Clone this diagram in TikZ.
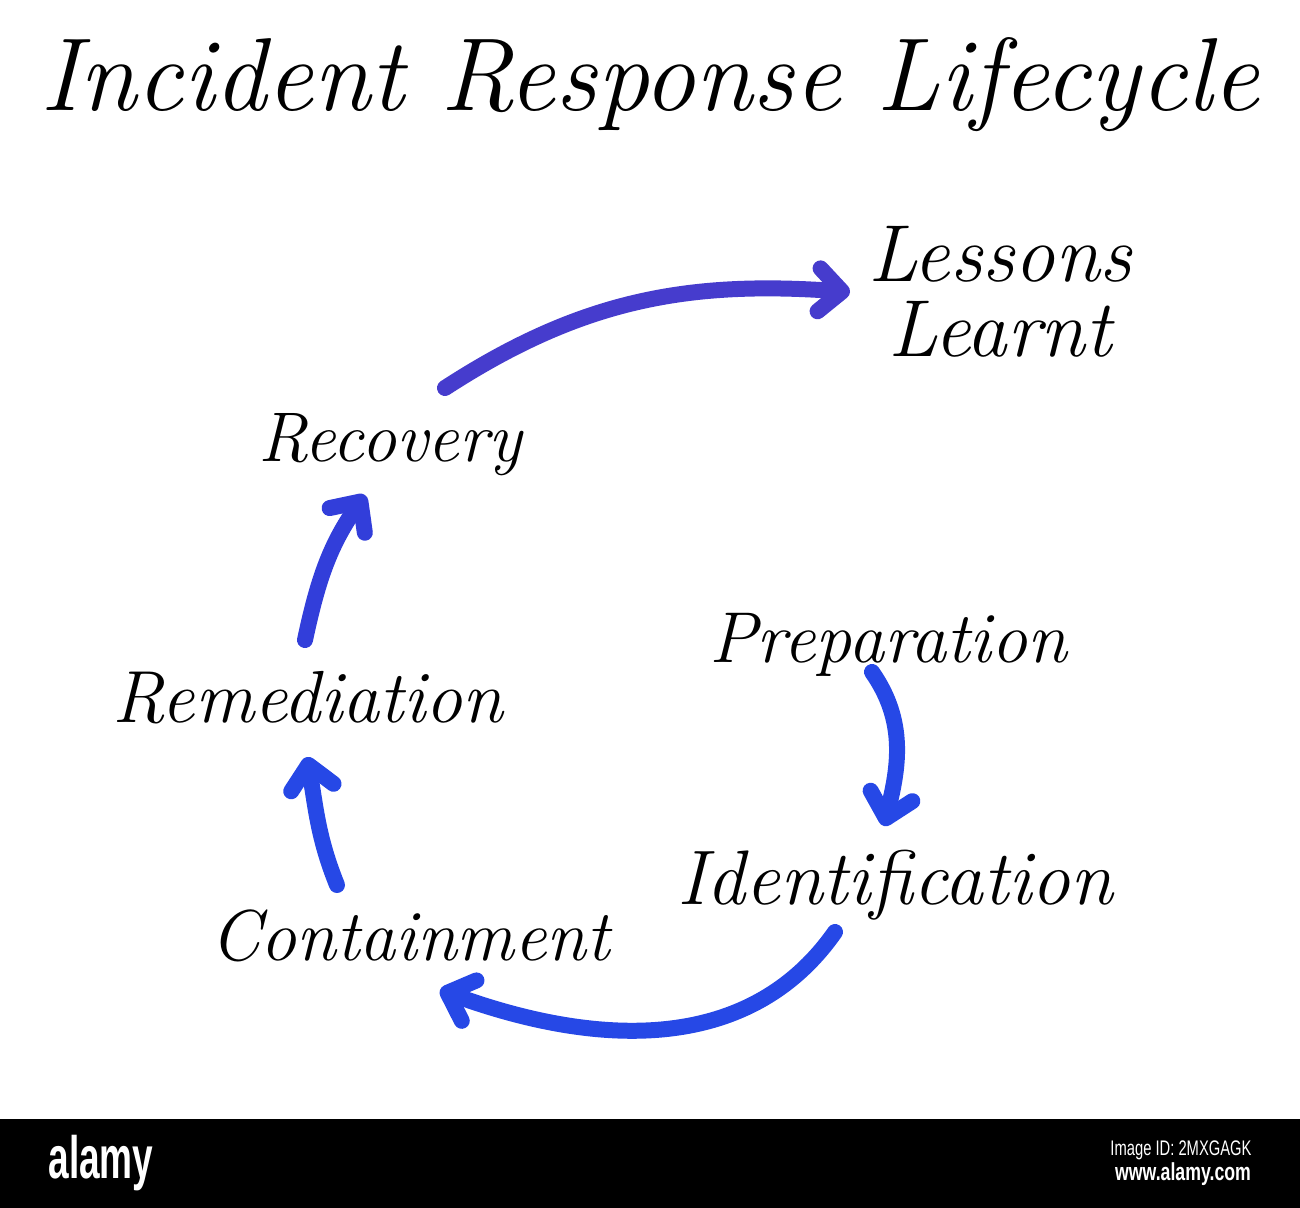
\documentclass[tikz,border=0pt]{standalone}
\usepackage{fontspec}
\newfontfamily\footfont{Liberation Sans}
\usetikzlibrary{arrows.meta, positioning, calc}
\definecolor{violetblue}{RGB}{70,60,205}
\definecolor{cycleblue}{RGB}{38,72,230}
\definecolor{midblue}{RGB}{50,62,218}

\begin{document}
\begin{tikzpicture}[
    x=0.1mm, y=0.1mm,
    stage/.style={inner sep=0pt, align=center, font=\fontsize{20.5}{22}\selectfont\itshape},
    flow/.style={line width=1.6mm, line cap=round, draw=cycleblue, -{Straight Barb[length=2.3mm, width=4.3mm, round]}},
    footer/.style={inner sep=0pt, text=white},
]
    \useasboundingbox (0,0) rectangle (1300,-1208);

    % title and stages
    \node[inner sep=0pt, font=\fontsize{29.5}{31}\selectfont\itshape] (title) at (650,-85) {Incident Response Lifecycle};
    \node[stage, font=\fontsize{23}{21.5}\selectfont\itshape] (les) at (1000,-292) {Lessons\\Learnt};
    \node[stage, font=\fontsize{20}{22}\selectfont\itshape] (rec) at (390,-445) {Recovery};
    \node[stage] (prep)  at (888,-645) {Preparation};
    \node[stage, font=\fontsize{21}{22}\selectfont\itshape] (rem) at (308,-698) {Remediation};
    \node[stage, font=\fontsize{22}{22}\selectfont\itshape] (ident) at (895,-885) {Identification};
    \node[stage] (cont)  at (410,-936) {Containment};

    % cycle
    \draw[flow] ($(prep)+(-16,-27)$)  to[out=-55, in=76]   ($(ident)+(-11,59)$);
    \draw[flow] ($(ident)+(-60,-47)$) to[out=-125, in=-20] ($(cont)+(30,-54)$);
    \draw[flow] ($(cont)+(-73,51)$)   to[out=112, in=-80]  ($(rem)+(-1,-59)$);
    \draw[flow, draw=midblue] ($(rem)+(-3,58)$) to[out=78, in=-125] ($(rec)+(-25,-50)$);
    \draw[flow, draw=violetblue] ($(rec)+(55,57)$) to[out=33, in=176] ($(les)+(-150,0)$);

    % footer bar
    \fill[black] (0,-1119) rectangle (1300,-1208);
    \node[footer, font=\fontsize{17}{17}\footfont\bfseries] (logo) at (101,-1163) {\scalebox{0.62}[1]{alamy}};
    \node[footer, font=\fontsize{6}{6}\footfont] (imgid) at (1181,-1150) {\scalebox{0.7}[1]{Image ID: 2MXGAGK}};
    \node[footer, font=\fontsize{7}{7}\footfont\bfseries] (site) at (1183,-1174) {\scalebox{0.72}[1]{www.alamy.com}};
\end{tikzpicture}
\end{document}
